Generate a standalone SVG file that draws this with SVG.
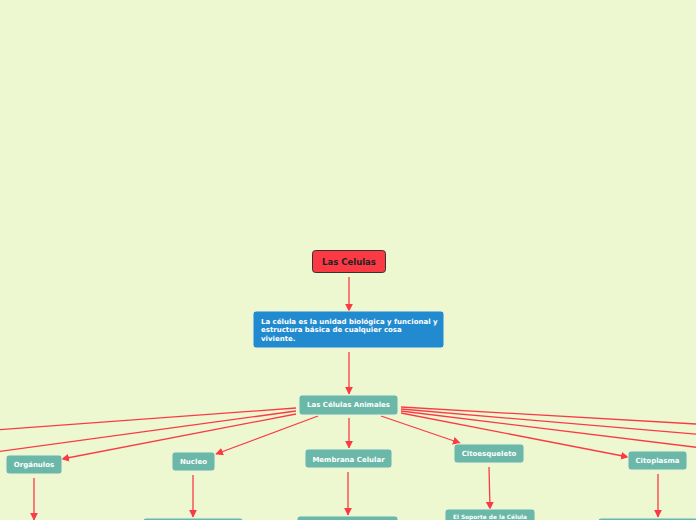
<svg xmlns="http://www.w3.org/2000/svg" width="696" height="520" viewBox="0 0 696 520">
<style>
.t{fill:#fff;font-family:"DejaVu Sans",sans-serif;font-weight:bold;font-size:7px}
.g{fill:#6bb8a8;stroke:#e8f4e0;stroke-width:1}
.c path{fill:none;stroke:#fb3a46;stroke-width:1.3;marker-end:url(#a)}
</style>
<defs><marker id="a" viewBox="0 0 10 10" refX="9" refY="5" markerWidth="6" markerHeight="6" orient="auto"><path d="M0,0L10,5L0,10z" fill="#fb3a46"/></marker></defs>
<rect width="696" height="520" fill="#eef8d0"/>
<g class="c">
<path d="M349,277V311"/>
<path d="M349,352V394"/>
<path d="M296,408L-100,437"/>
<path d="M296,411L-100,465"/>
<path d="M296,414L62,459"/>
<path d="M318,416L216,454"/>
<path d="M349,418V448"/>
<path d="M381,416L460,443"/>
<path d="M401,407L800,430"/>
<path d="M401,409L800,443"/>
<path d="M401,411L800,460"/>
<path d="M401,413L628,457"/>
<path d="M34,478V520"/>
<path d="M193,475V517"/>
<path d="M348,472V515"/>
<path d="M489,467L490,509"/>
<path d="M658,474V517"/>
</g>
<g id="n0"><rect x="312.5" y="250.5" width="73" height="22" rx="3" fill="#fb3a46" stroke="#333"/><text x="349" y="264.5" text-anchor="middle" style="font-family:'DejaVu Sans',sans-serif;font-weight:bold;font-size:8.5px;fill:#222">Las Celulas</text></g>
<g id="n1"><rect x="253" y="311" width="191" height="37" rx="3" fill="#228bcf" stroke="#e8f4e0"/><text class="t"><tspan x="261" y="323.5">La célula es la unidad biológica y funcional y</tspan><tspan x="261" y="331.8">estructura básica de cualquier cosa</tspan><tspan x="261" y="340.5">viviente.</tspan></text></g>
<g id="n2"><rect class="g" x="299" y="395" width="99" height="20" rx="3"/><text class="t" x="348.5" y="407" text-anchor="middle">Las Células Animales</text></g>
<g id="n3"><rect class="g" x="6" y="455" width="56" height="19" rx="3"/><text class="t" x="34" y="466.5" text-anchor="middle">Orgánulos</text></g>
<g id="n4"><rect class="g" x="172" y="452" width="43" height="19" rx="3"/><text class="t" x="193.5" y="463.5" text-anchor="middle">Nucleo</text></g>
<g id="n5"><rect class="g" x="305" y="449" width="87" height="19" rx="3"/><text class="t" x="348.5" y="461.5" text-anchor="middle">Membrana Celular</text></g>
<g id="n6"><rect class="g" x="454" y="444" width="70" height="19" rx="3"/><text class="t" x="489" y="455.5" text-anchor="middle">Citoesqueleto</text></g>
<g id="n7"><rect class="g" x="628" y="451" width="59" height="19" rx="3"/><text class="t" x="657.5" y="462.5" text-anchor="middle">Citoplasma</text></g>
<g id="n8"><rect class="g" x="143" y="518" width="100" height="14" rx="3"/></g>
<g id="n9"><rect class="g" x="297" y="516" width="101" height="14" rx="3"/></g>
<g id="n10"><rect class="g" x="445" y="509" width="90" height="16" rx="3"/><text class="t" x="490" y="519" text-anchor="middle" style="font-size:5.8px">El Soporte de la Célula</text></g>
<g id="n11"><rect class="g" x="598" y="518" width="100" height="14" rx="3"/></g>
</svg>
